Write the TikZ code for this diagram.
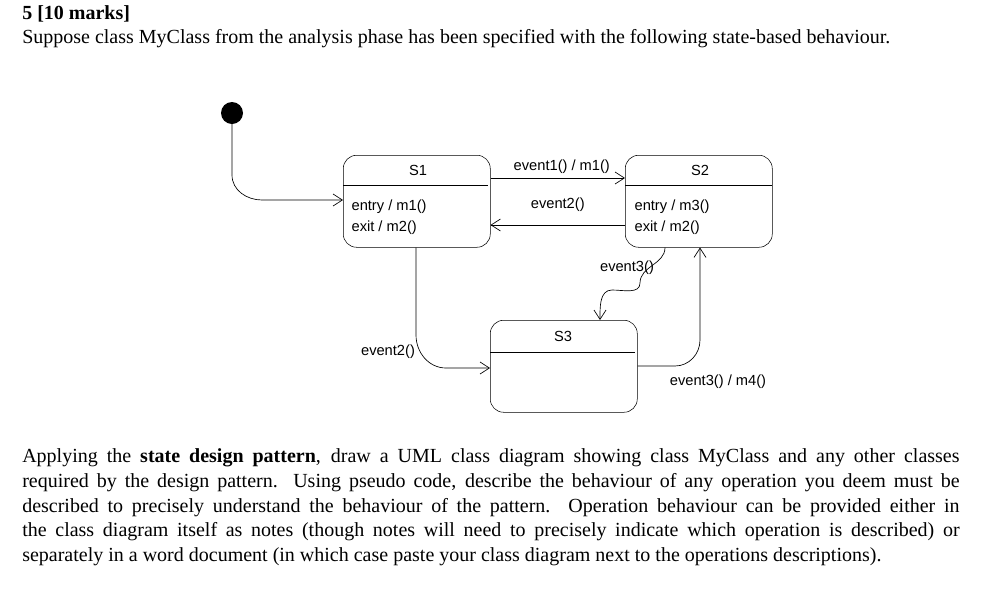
\documentclass[tikz,border=0pt]{standalone}
\usepackage{fontspec}
\setmainfont{Liberation Serif}
\newfontfamily\diagfont{Liberation Sans}
\usetikzlibrary{arrows.meta}
\tikzset{
  state/.style={draw, rounded corners=10pt, minimum width=110.25pt, minimum height=69pt},
  lbl/.style={font=\diagfont\fontsize{11}{13}\selectfont, inner sep=1pt},
  trans/.style={-{Straight Barb[length=7pt,width=9pt]}, line width=0.5pt},
  para/.style={anchor=west, inner sep=0pt, font=\fontsize{15}{18}\selectfont}
}
\newcommand{\fullline}[1]{\makebox[703pt][s]{#1}}
\begin{document}
\begin{tikzpicture}[x=0.75pt, y=-0.75pt]
\useasboundingbox (0,0) rectangle (985,590);
% Question
\node[para] (q1) at (22,14) {\textbf{5 [10 marks]}};
\node[para] (q2) at (22,39) {Suppose class MyClass from the analysis phase has been specified with the following state-based behaviour.};

% States
\node[state, anchor=north west] (s1) at (343,155) {};
\node[state, anchor=north west] (s2) at (625,155) {};
\node[state, anchor=north west] (s3) at (490,320) {};
\draw (343,185) -- (488,185);
\draw (625,185) -- (772,185);
\draw (490,352) -- (635,352);
\node[lbl] (n1) at (418,170) {S1};
\node[lbl] (n2) at (700,170) {S2};
\node[lbl] (n3) at (563,336) {S3};
\node[lbl, anchor=west] (e1) at (350,207) {entry / m1()};
\node[lbl, anchor=west] (x1) at (350,228) {exit / m2()};
\node[lbl, anchor=west] (e2) at (633,207) {entry / m3()};
\node[lbl, anchor=west] (x2) at (633,228) {exit / m2()};

% Initial state
\fill (232,113) circle (11);
\coordinate (init) at (232,113);
\draw[trans] (init) -- (232,175) to[out=-90,in=180] (262,200) -- (s1.west |- 0,200);

% Transitions
\draw[trans] (s1.east |- 0,178) -- (s2.west |- 0,178)
  node[lbl, pos=0.53, above=2pt] {event1() / m1()};
\draw[trans] (s2.west |- 0,225) -- (s1.east |- 0,225)
  node[lbl, pos=0.5, above=9pt] {event2()};
\draw[trans] (s2.south -| 665,0) to[out=-90,in=90] (640,283) to[out=-90,in=0] (612,290)
  to[out=180,in=90] (600,320);
\node[lbl] (l3) at (627,268) {event3()};
\draw[trans] (s1.south -| 416,0) -- (416,335) to[out=-90,in=180] (446,368) -- (s3.west |- 0,368);
\node[lbl] (l4) at (388,352) {event2()};
\draw[trans] (s3.east |- 0,366) -- (675,366) to[out=0,in=-90] (700,340) -- (s2.south -| 700,0);
\node[lbl] (l5) at (718,382) {event3() / m4()};

% Paragraph
\node[para] (p1) at (22,458) {\fullline{Applying the \textbf{state design pattern}, draw a UML class diagram showing class MyClass and any other classes}};
\node[para] (p2) at (22,483) {\fullline{required by the design pattern. Using pseudo code, describe the behaviour of any operation you deem must be}};
\node[para] (p3) at (22,508) {\fullline{described to precisely understand the behaviour of the pattern. Operation behaviour can be provided either in}};
\node[para] (p4) at (22,532) {\fullline{the class diagram itself as notes (though notes will need to precisely indicate which operation is described) or}};
\node[para] (p5) at (22,557) {separately in a word document (in which case paste your class diagram next to the operations descriptions).};
\end{tikzpicture}
\end{document}
